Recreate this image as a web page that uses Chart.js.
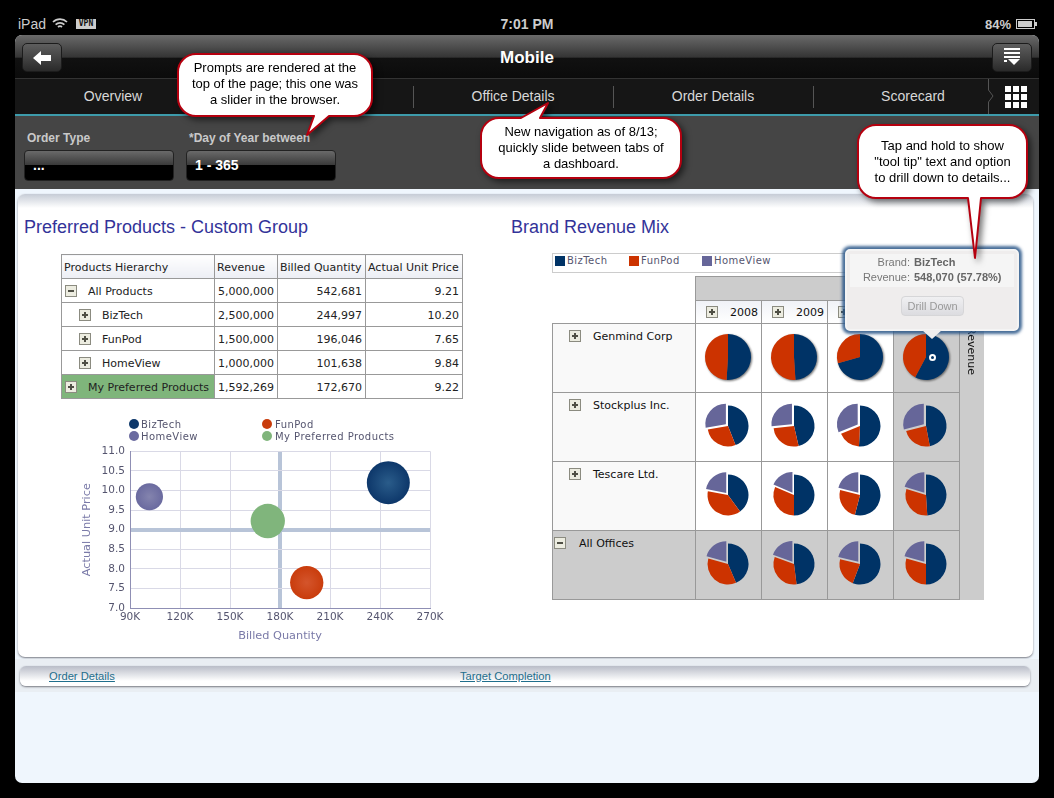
<!DOCTYPE html>
<html><head><meta charset="utf-8"><title>Mobile</title>
<script src="https://cdn.jsdelivr.net/npm/chart.js@4"></script>
<style>
html,body{margin:0;padding:0;background:#000;width:1054px;height:798px;overflow:hidden;font-family:"Liberation Sans",Arial,sans-serif}
.a{position:absolute;box-sizing:border-box;white-space:nowrap}
#app{left:15px;top:35px;width:1024px;height:748px;background:#eff6fd;border-radius:7px;overflow:hidden}
.tab{color:#d8d8d8;font-size:14px;top:88px;width:200px;text-align:center}
.sep{top:86px;height:22px;width:1px;background:#555}
.plab{color:#c9c9c9;font-size:12px;font-weight:bold;top:131px}
.pbox{top:150px;height:31px;width:150px;border-radius:4px;background:linear-gradient(#6a6a6a 0,#3a3a3a 48%,#000 49%,#000 100%);color:#fff;font-size:14px;font-weight:bold;padding:6px 8px;border:1px solid #222}
.btn{top:43px;height:29px;width:40px;border-radius:5px;background:linear-gradient(#5e5e5e,#2a2a2a);border:1px solid #1c1c1c}
.title{color:#333399;font-size:18px;top:217px}
.v{font-family:"DejaVu Sans",Verdana,sans-serif}
table{border-collapse:collapse;table-layout:fixed;font-family:"DejaVu Sans",Verdana,sans-serif;font-size:11px;color:#222}
td,th{border:1px solid #999;height:24px;padding:2px 3px 0 3px;font-weight:normal;text-align:right;box-sizing:border-box;white-space:nowrap;overflow:hidden}
th{text-align:left;background:linear-gradient(#fff,#eceef4);padding:2px 2px 0 2px}
td.n{text-align:left}
.ic{display:inline-block;width:12px;height:12px;border:1px solid #8b8b80;background-color:#ecece0;position:relative;vertical-align:-2px;box-sizing:border-box}
.ic.a{position:absolute}
.ic:before{content:"";position:absolute;left:2px;right:2px;top:4px;height:2px;background:#4f4f45}
.ic.p:after{content:"";position:absolute;top:2px;bottom:2px;left:4px;width:2px;background:#4f4f45}
.cell{border:1px solid #999}
.lg{font-size:10px;color:#55556f;letter-spacing:.45px;font-family:"DejaVu Sans",sans-serif}
.dot{width:10px;height:10px;border-radius:50%}
.sq{width:10px;height:10px}
#tip{left:845px;top:249px;width:174px;height:82px;background:#efeded;border:2px solid #f4f4f4;border-radius:5px;box-shadow:0 0 3px 3px rgba(40,85,135,.85);font-size:11px;color:#777}
</style></head><body>
<div class="a" id="app"></div>
<div class="a" style="left:15px;top:35px;width:1024px;height:44px;border-radius:7px 7px 0 0;background:linear-gradient(#6a6a6a 0,#343434 52%,#111 53%,#0b0b0b 100%);border-bottom:1px solid #333"></div>
<div class="a" style="left:15px;top:79px;width:1024px;height:35px;background:#161616"></div>
<div class="a" style="left:15px;top:114px;width:1024px;height:2px;background:#3d9bab"></div>
<div class="a" style="left:15px;top:116px;width:1024px;height:73px;background:#454545"></div>

<!-- status bar -->
<div class="a" style="left:18px;top:16px;color:#ccc;font-size:14px">iPad</div>
<svg class="a" style="left:52px;top:17px" width="16" height="13" viewBox="0 0 16 13" fill="none" stroke="#ccc" stroke-width="1.7"><path d="M1 5a10 10 0 0 1 14 0"/><path d="M3.6 7.6a6.3 6.3 0 0 1 8.8 0"/><path d="M6 10a3 3 0 0 1 4 0"/></svg>
<div class="a" style="left:76px;top:19px;width:20px;height:10px;background:#ccc;color:#111;font:bold 8px/10px 'DejaVu Sans Mono',monospace;text-align:center">VPN</div>
<div class="a" style="left:0;top:16px;width:1054px;text-align:center;color:#ccc;font-size:14px;font-weight:bold">7:01 PM</div>
<div class="a" style="left:985px;top:17px;color:#ccc;font-size:13px;font-weight:bold">84%</div>
<div class="a" style="left:1016px;top:19px;width:19px;height:10px;border:1px solid #ccc;padding:1px"><div style="width:14px;height:6px;background:#ccc"></div></div>
<div class="a" style="left:1035px;top:22px;width:2px;height:4px;background:#ccc"></div>

<!-- header -->
<div class="a btn" style="left:22px"></div>
<svg class="a" style="left:32px;top:50px" width="20" height="16" viewBox="0 0 20 16"><path d="M1 8 9 1v4h10v6H9v4z" fill="#fff"/></svg>
<div class="a" style="left:0;top:48px;width:1054px;text-align:center;color:#fff;font-size:17px;font-weight:bold">Mobile</div>
<div class="a btn" style="left:992px"></div>
<svg class="a" style="left:1003px;top:48px" width="18" height="18" viewBox="0 0 18 18" fill="#fff"><rect x="1" y="0" width="16" height="2"/><rect x="1" y="4" width="16" height="2"/><rect x="1" y="8" width="16" height="2"/><rect x="1" y="12" width="3" height="2"/><path d="M5 11h12l-6 6z"/></svg>

<!-- tabs -->
<div class="a tab" style="left:13px">Overview</div>
<div class="a sep" style="left:413px"></div><div class="a sep" style="left:613px"></div><div class="a sep" style="left:813px"></div>
<div class="a tab" style="left:413px">Office Details</div>
<div class="a tab" style="left:613px">Order Details</div>
<div class="a tab" style="left:813px">Scorecard</div>
<svg class="a" style="left:984px;top:79px" width="12" height="35" fill="none" stroke="#555"><path d="M4.5 0V11L9 17 4.5 23V35"/></svg>
<svg class="a" style="left:1005px;top:86px" width="22" height="22" fill="#fff"><rect width="6" height="6"/><rect x="8" width="6" height="6"/><rect x="16" width="6" height="6"/><rect y="8" width="6" height="6"/><rect x="8" y="8" width="6" height="6"/><rect x="16" y="8" width="6" height="6"/><rect y="16" width="6" height="6"/><rect x="8" y="16" width="6" height="6"/><rect x="16" y="16" width="6" height="6"/></svg>

<!-- prompts -->
<div class="a plab" style="left:27px">Order Type</div>
<div class="a plab" style="left:189px">*Day of Year between</div>
<div class="a pbox" style="left:24px">...</div>
<div class="a pbox" style="left:186px">1 - 365</div>

<!-- panels -->
<div class="a" style="left:18px;top:194px;width:1015px;height:463px;background:#fff;border-radius:7px;box-shadow:0 1px 2px rgba(70,70,80,.7);"></div>
<div class="a" style="left:18px;top:194px;width:1015px;height:14px;border-radius:7px 7px 0 0;background:linear-gradient(#c6ccd6,#fff)"></div>
<div class="a" style="left:15px;top:659px;width:1024px;height:33px;background:#e9eef3"></div>
<div class="a" style="left:20px;top:666px;width:1010px;height:20px;border-radius:6px;background:linear-gradient(#b9bdc8,#fff 75%);box-shadow:0 1px 2px rgba(70,70,80,.7)"></div>
<div class="a" style="left:49px;top:670px;font-size:11.2px;color:#1f6e8c;text-decoration:underline">Order Details</div>
<div class="a" style="left:460px;top:670px;font-size:11.2px;color:#1f6e8c;text-decoration:underline">Target Completion</div>

<div class="a title" style="left:24px">Preferred Products - Custom Group</div>
<div class="a title" style="left:511px">Brand Revenue Mix</div>

<div class="a" id="tbl" style="left:61px;top:254px"></div>
<div id="bubLeg"></div>
<canvas class="a" id="bubble" width="380" height="210" style="left:70px;top:440px"></canvas>

<div id="xtab"></div>

<!-- tooltip -->
<div class="a" id="tip">
  <div class="a" style="left:3px;top:3px;width:164px;height:33px;background:#f5f5f5"></div>
  <div class="a" style="right:107px;top:5px">Brand:</div><div class="a" style="left:67px;top:5px;font-weight:bold;color:#666">BizTech</div>
  <div class="a" style="right:107px;top:20px">Revenue:</div><div class="a" style="left:67px;top:20px;font-weight:bold;color:#666">548,070 (57.78%)</div>
  <div class="a" style="left:54px;top:45px;width:63px;height:20px;border:1px solid #d6d6d8;border-radius:4px;background:linear-gradient(#f0f0f2,#dcdce0);text-align:center;line-height:18px;color:#999">Drill Down</div>
</div>
<svg class="a" style="left:922px;top:329px" width="22" height="11"><path d="M0 1 10 10 20 1" fill="#efeded"/></svg>
<div class="a" style="left:929px;top:354px;width:7px;height:7px;border:2px solid #fff;border-radius:50%"></div>

<!-- callouts -->
<svg class="a" style="left:0;top:0;filter:drop-shadow(3px 3px 3px rgba(0,0,0,.55))" width="1054" height="798" fill="#fff" stroke="#b5000f" stroke-width="2" stroke-linejoin="round">
<path d="M196 54H354a18 18 0 0 1 18 18V98a18 18 0 0 1-18 18H329L307 135 314 116H196a18 18 0 0 1-18-18V72a18 18 0 0 1 18-18z"/>
<path d="M499 118H521L548 103 540 118H663a18 18 0 0 1 18 18V160a18 18 0 0 1-18 18H499a18 18 0 0 1-18-18V136a18 18 0 0 1 18-18z"/>
<path d="M876 125H1009a18 18 0 0 1 18 18V180a18 18 0 0 1-18 18H981L975 258 968 198H876a18 18 0 0 1-18-18V143a18 18 0 0 1 18-18z"/>
</svg>
<div class="a" style="left:178px;top:60px;width:194px;text-align:center;font-size:13px;line-height:16px;color:#000">Prompts are rendered at the<br>top of the page; this one was<br>a slider in the browser.</div>
<div class="a" style="left:481px;top:124px;width:200px;text-align:center;font-size:13px;line-height:16px;color:#000">New navigation as of 8/13;<br>quickly slide between tabs of<br>a dashboard.</div>
<div class="a" style="left:858px;top:138px;width:169px;text-align:center;font-size:13px;line-height:16px;color:#000">Tap and hold to show<br>"tool tip" text and option<br>to drill down to details...</div>

<script>
/* ---------- data ---------- */
const products = ['BizTech','FunPod','HomeView','My Preferred Products'];
const revenue = [2500000,1500000,1000000,1592269];
const billedQuantity = [244997,196046,101638,172670];
const unitPrice = [10.20,7.65,9.84,9.22];
const allRevenue = 5000000, allQuantity = 542681, allPrice = 9.21;
const bubbleColors = [['#2a5c8a','#0d376a'],['#d4552c','#c93c0c'],['#8484ae','#6a6a9f'],['#80b57c','#80b57c']];
const years = ['2008','2009','2010','2011'];
const offices = ['Genmind Corp','Stockplus Inc.','Tescare Ltd.','All Offices'];
const brands = ['BizTech','FunPod','HomeView'];
const brandColors = ['#003366','#cc3300','#666699'];
/* share of revenue (%) per office row, per year column */
const bizTechShare = [[51,49,70.6,57.78],[44,46.4,50.8,47],[40,50,54,49],[43.6,48,55.8,50]];
const funPodShare  = [[49,51,29.4,42.22],[28.3,26.9,18,24],[38,31.4,25,30.7],[35.8,32.5,23,29.4]];
const homeViewShare= [[0,0,0,0],[27.7,26.7,31.2,29],[22,18.6,21,20.3],[20.6,19.5,21.2,20.6]];

const fmt = n => n.toLocaleString('en-US');
const el = (cls,css,html='',parent=document.body)=>{const d=document.createElement('div');d.className='a '+cls;d.style.cssText=css;d.innerHTML=html;parent.appendChild(d);return d;};

/* ---------- hierarchy table ---------- */
let rows = `<tr><th>Products Hierarchy</th><th>Revenue</th><th>Billed Quantity</th><th>Actual Unit Price</th></tr>`;
rows += `<tr><td class="n"><span class="ic" style="margin-right:11px"></span>All Products</td><td>${fmt(allRevenue)}</td><td>${fmt(allQuantity)}</td><td>${allPrice.toFixed(2)}</td></tr>`;
products.forEach((p,i)=>{
  const green = i===3;
  rows += `<tr><td class="n" style="${green?'background:#7fb57b;':'padding-left:17px;'}"><span class="ic p" style="margin-right:11px"></span>${p}</td><td>${fmt(revenue[i])}</td><td>${fmt(billedQuantity[i])}</td><td>${unitPrice[i].toFixed(2)}</td></tr>`;
});
document.getElementById('tbl').innerHTML = `<table style="width:401px"><colgroup><col style="width:153px"><col style="width:63px"><col style="width:88px"><col style="width:97px"></colgroup>${rows}</table>`;

/* ---------- bubble legend ---------- */
const legPos = [[129,419,141],[262,419,275],[129,431,141],[262,431,275]];
products.forEach((p,i)=>{
  const [dx,y,tx]=legPos[i];
  el('dot',`left:${dx}px;top:${y}px;background:${bubbleColors[i][1]}`);
  el('lg',`left:${tx}px;top:${y}px`,p);
});

/* ---------- bubble chart ---------- */
const rFactor = 0.0136;
new Chart(document.getElementById('bubble'),{
  type:'bubble',
  data:{datasets:[{
    data:products.map((p,i)=>({x:billedQuantity[i],y:unitPrice[i],r:Math.sqrt(revenue[i])*rFactor})),
    backgroundColor:c=>{
      const i=c.dataIndex, s=c.chart.scales;
      if(i===undefined||!s.x) return '#888';
      const x=s.x.getPixelForValue(billedQuantity[i]), y=s.y.getPixelForValue(unitPrice[i]);
      if(!isFinite(x)||!isFinite(y)) return bubbleColors[i][1];
      const r=Math.sqrt(revenue[i])*rFactor;
      const g=c.chart.ctx.createRadialGradient(x,y,0,x,y,r);
      g.addColorStop(0,bubbleColors[i][0]);g.addColorStop(1,bubbleColors[i][1]);
      return g;
    },
    borderWidth:0,hoverBorderWidth:0
  }]},
  options:{
    responsive:false,animation:false,events:[],
    layout:{autoPadding:false,padding:{left:0,right:20,top:11,bottom:0}},
    plugins:{legend:{display:false},tooltip:{enabled:false}},
    scales:{
      x:{type:'linear',min:90000,max:270000,
        afterFit:s=>{s.height=42},
        border:{color:'#8f8fb4',width:1},
        grid:{drawTicks:false,color:c=>c.tick.value===180000?'#b8c4d8':'#d9d9e6',lineWidth:c=>c.tick.value===180000?4:1},
        ticks:{stepSize:30000,maxRotation:0,autoSkip:false,padding:3,color:'#55556f',font:{family:'DejaVu Sans',size:10.5},callback:v=>(v/1000)+'K'},
        title:{display:true,text:'Billed Quantity',color:'#7a7aa8',font:{family:'DejaVu Sans',size:11.3},padding:{top:0,bottom:7}}},
      y:{type:'linear',min:7,max:11,
        afterFit:s=>{s.width=60},
        border:{color:'#8f8fb4',width:1},
        grid:{drawTicks:false,color:c=>c.tick.value===9?'#b8c4d8':'#d9d9e6',lineWidth:c=>c.tick.value===9?4:1},
        ticks:{stepSize:.5,autoSkip:false,padding:5,color:'#55556f',font:{family:'DejaVu Sans',size:10.5},callback:v=>v.toFixed(1)},
        title:{display:true,text:'Actual Unit Price',color:'#7a7aa8',font:{family:'DejaVu Sans',size:11.3},padding:{top:10,bottom:0}}}
    }
  }
});

/* ---------- brand legend ---------- */
const xt=document.getElementById('xtab');
el('','left:552px;top:253px;width:300px;height:20px;border:1px solid #ccc;background:#fff','',xt);
brands.forEach((b,i)=>{
  const xs=[555,629,702][i];
  el('sq',`left:${xs}px;top:256px;background:${brandColors[i]}`,'',xt);
  el('lg',`left:${xs+12}px;top:255px`,b,xt);
});

/* ---------- crosstab ---------- */
const colX=[695,761,827,893,959], rowY=[323,392,461,530,599];
el('',`left:695px;top:276px;width:289px;height:24px;background:#ccc;border:1px solid #999;border-bottom:0`,'',xt);
el('',`left:959px;top:300px;width:25px;height:300px;background:#ccc`,'',xt);
years.forEach((y,c)=>{
  /* the 2010 and 2011 captions lie fully behind the tooltip in the reference */
  el('v',`left:${colX[c]}px;top:300px;width:67px;height:24px;background:linear-gradient(#f0f2f7,#fff);border:1px solid #999;font-size:11px;color:#111;padding:5px 3px 0 0;text-align:right`,c<2?y:'',xt);
  el('ic p',`left:${colX[c]+11}px;top:306px`,'',xt);
});
offices.forEach((o,r)=>{
  const tot=r===3;
  el('cell',`left:552px;top:${rowY[r]}px;width:144px;height:70px;background:${tot?'#ccc':'#f9f9f9'}`,'',xt);
  el('ic '+(tot?'':'p'),`left:${tot?554:569}px;top:${rowY[r]+7}px`,'',xt);
  el('v',`left:${tot?579:593}px;top:${rowY[r]+7}px;font-size:11px;color:#111`,o,xt);
  years.forEach((y,c)=>{
    el('cell',`left:${colX[c]}px;top:${rowY[r]}px;width:67px;height:70px;background:${(tot||c===3)?'#ccc':'#fff'}`,'',xt);
    const cv=document.createElement('canvas');
    cv.width=64;cv.height=64;cv.className='a';
    cv.style.cssText=`left:${colX[c]+1}px;top:${rowY[r]+2}px;`+(r===0?'filter:drop-shadow(1.5px 1.5px 1px rgba(60,60,60,.75));':'');
    xt.appendChild(cv);
    const vals=[bizTechShare[r][c],funPodShare[r][c],homeViewShare[r][c]];
    new Chart(cv,{type:'pie',
      data:{labels:brands,datasets:[{data:vals,backgroundColor:brandColors,borderWidth:0,offset:r===0?[0,0,0]:[0,0,11]}]},
      options:{responsive:false,animation:false,events:[],radius:r===0?23:20.5,layout:{padding:0},plugins:{legend:{display:false},tooltip:{enabled:false}}}
    });
  });
});
el('v','left:946px;top:344px;width:50px;height:14px;line-height:14px;text-align:center;font-size:11px;color:#111;transform:rotate(90deg);transform-origin:center','Revenue',xt);
</script>
</body></html>
